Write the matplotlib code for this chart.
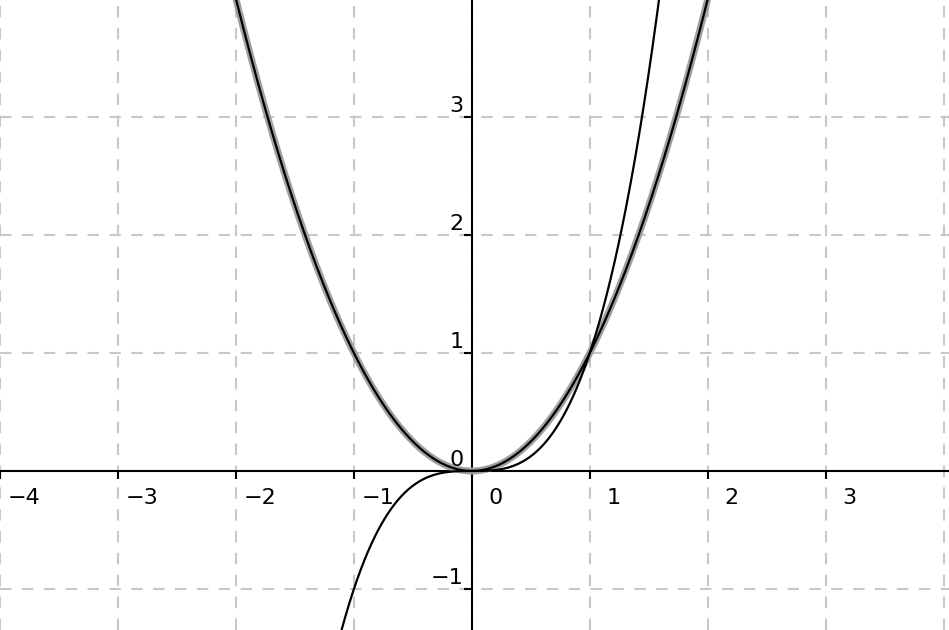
import numpy as np
import matplotlib
matplotlib.use("Agg")
import matplotlib.pyplot as plt
from matplotlib.transforms import offset_copy

# Data
x_ticks = [-4, -3, -2, -1, 0, 1, 2, 3]
x_tick_labels = ["\u22124", "\u22123", "\u22122", "\u22121", "0", "1", "2", "3"]
y_ticks = [-1, 0, 1, 2, 3]
y_tick_labels = ["\u22121", "0", "1", "2", "3"]
grid_x = [-4, -3, -2, -1, 0, 1, 2, 3, 4]
grid_y = [-1, 1, 2, 3, 4]
xs = np.linspace(-4.1, 4.1, 2001)
square = xs ** 2      # f(x) = x^2
cube = xs ** 3        # g(x) = x^3

XMIN, XMAX = -4.0, 4.045
YMIN, YMAX = -1.347, 3.99

fig = plt.figure(figsize=(9.49, 6.30), dpi=100)
ax = fig.add_axes([0, 0, 1, 1])
ax.set_xlim(XMIN, XMAX)
ax.set_ylim(YMIN, YMAX)

# grid
for gx in grid_x:
    ax.axvline(gx, color="#c8c8c8", lw=1.5, dashes=(5.5, 5), zorder=1)
for gy in grid_y:
    ax.axhline(gy, color="#c8c8c8", lw=1.5, dashes=(5.5, 5), zorder=1)

# axes through origin
for s in ["top", "right"]:
    ax.spines[s].set_visible(False)
ax.spines["left"].set_position(("data", 0))
ax.spines["bottom"].set_position(("data", 0))
ax.spines["left"].set_linewidth(1.5)
ax.spines["bottom"].set_linewidth(1.5)
ax.spines["left"].set_zorder(2)
ax.spines["bottom"].set_zorder(2)
ax.set_xticks(x_ticks)
ax.set_yticks(y_ticks)
ax.tick_params(axis="both", direction="out", length=6, width=1.5,
               labelbottom=False, labelleft=False, color="black")

# curves
ax.plot(xs, square, color="#a0a0a0", lw=5.0, solid_capstyle="round", zorder=3)
ax.plot(xs, square, color="black", lw=1.6, zorder=4)
ax.plot(xs, cube, color="black", lw=1.6, zorder=4)

# tick labels
xtr = offset_copy(ax.transData, fig=fig, x=24, y=-33, units="dots")
for t, lab in zip(x_ticks, x_tick_labels):
    ax.text(t, 0, lab, transform=xtr, ha="center", va="baseline",
            fontsize=16, family="DejaVu Sans", color="black", zorder=5)
ytr = offset_copy(ax.transData, fig=fig, x=-8, y=5, units="dots")
for t, lab in zip(y_ticks, y_tick_labels):
    ax.text(0, t, lab, transform=ytr, ha="right", va="baseline",
            fontsize=16, family="DejaVu Sans", color="black", zorder=5)

fig.savefig("out.png", dpi=100)
